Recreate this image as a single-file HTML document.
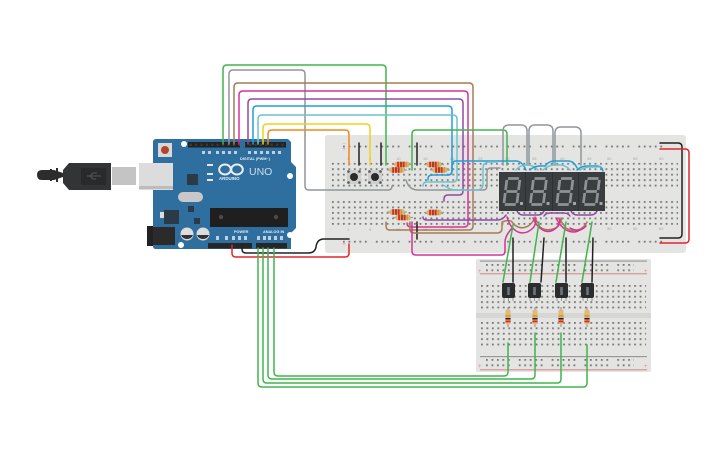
<!DOCTYPE html>
<html><head><meta charset="utf-8"><style>
html,body{margin:0;padding:0;background:#fff}
svg{display:block}
text{font-family:"Liberation Sans",sans-serif}
.w{fill:none;stroke-width:1.5;stroke-linecap:round}
</style></head><body>
<svg width="725" height="453" viewBox="0 0 725 453" xmlns="http://www.w3.org/2000/svg">
<defs>
<pattern id="m1" x="332" y="162.8" width="5.47" height="5.47" patternUnits="userSpaceOnUse"><rect x="0" y="0" width="1.8" height="1.8" fill="#777"/></pattern>
<pattern id="r1" x="343" y="0" width="32.82" height="5.6" patternUnits="userSpaceOnUse"><g fill="#777"><rect x="0" y="0" width="1.8" height="1.8"/><rect x="5.47" y="0" width="1.8" height="1.8"/><rect x="10.94" y="0" width="1.8" height="1.8"/><rect x="16.41" y="0" width="1.8" height="1.8"/><rect x="21.88" y="0" width="1.8" height="1.8"/></g></pattern>
<pattern id="m2" x="481" y="285" width="5.47" height="5.4" patternUnits="userSpaceOnUse"><rect x="0" y="0" width="1.8" height="1.8" fill="#777"/></pattern>
<pattern id="m3" x="481" y="322" width="5.47" height="5.4" patternUnits="userSpaceOnUse"><rect x="0" y="0" width="1.8" height="1.8" fill="#777"/></pattern>
<pattern id="r2" x="486" y="264" width="32.82" height="5.4" patternUnits="userSpaceOnUse"><g fill="#777"><rect x="0" y="0" width="1.8" height="1.8"/><rect x="5.47" y="0" width="1.8" height="1.8"/><rect x="10.94" y="0" width="1.8" height="1.8"/><rect x="16.41" y="0" width="1.8" height="1.8"/><rect x="21.88" y="0" width="1.8" height="1.8"/></g></pattern>
<pattern id="r3" x="486" y="359" width="32.82" height="5.4" patternUnits="userSpaceOnUse"><g fill="#777"><rect x="0" y="0" width="1.8" height="1.8"/><rect x="5.47" y="0" width="1.8" height="1.8"/><rect x="10.94" y="0" width="1.8" height="1.8"/><rect x="16.41" y="0" width="1.8" height="1.8"/><rect x="21.88" y="0" width="1.8" height="1.8"/></g></pattern>
<pattern id="hd" x="188" y="142" width="5.4" height="6" patternUnits="userSpaceOnUse"><rect width="5.4" height="6" fill="#222"/><rect x="1.6" y="1.6" width="2.2" height="2.4" fill="#3a3a3a"/></pattern>
<g id="dig"><g transform="skewX(-7)" fill="none" stroke="#8f9394" stroke-width="2.7"><path d="M3 0H14"/><path d="M2 1.5V11.5"/><path d="M15 1.5V11.5"/><path d="M3 13H14"/><path d="M2 14.5V24.5"/><path d="M15 14.5V24.5"/><path d="M3 26H14"/></g><rect x="15" y="23.5" width="3" height="3" fill="#a0a4a5"/></g>
<g id="res"><rect x="-10" y="-.6" width="20" height="1.2" fill="#999"/><rect x="-7.5" y="-2.8" width="15" height="5.6" rx="2.2" fill="#d8b572"/><rect x="-4.8" y="-2.8" width="2" height="5.6" fill="#e0261f"/><rect x="-1.8" y="-2.8" width="1.6" height="5.6" fill="#8a2a1a"/><rect x=".6" y="-2.8" width="2" height="5.6" fill="#e0261f"/><rect x="3.6" y="-2.8" width="1.2" height="5.6" fill="#c8962c"/></g>
<g id="vres"><rect x="-.6" y="-10" width="1.2" height="20" fill="#999"/><rect x="-2.6" y="-7.5" width="5.2" height="15" rx="2" fill="#dcbb7c"/><rect x="-2.6" y="-1.8" width="5.2" height="1.6" fill="#e8902a"/><rect x="-2.6" y="1" width="5.2" height="1.5" fill="#1c1c1c"/><rect x="-2.6" y="3.5" width="5.2" height="1.8" fill="#e0261f"/></g>
<g id="btn"><rect x="-7" y="-7" width="14" height="14" fill="#cfcfcf"/><circle cx="-5.5" cy="-5.5" r="1.3" fill="#555"/><circle cx="5.5" cy="-5.5" r="1.3" fill="#555"/><circle cx="-5.5" cy="5.5" r="1.3" fill="#555"/><circle cx="5.5" cy="5.5" r="1.3" fill="#555"/><circle r="4" fill="#2b2b2b"/></g>
<g id="tr"><rect x="1.5" y="14" width="1" height="4" fill="#999"/><rect x="6" y="14" width="1" height="4" fill="#999"/><rect x="10.5" y="14" width="1" height="4" fill="#999"/><path d="M0 1.5Q0 0 2 0H11Q13 0 13 1.5V13Q13 15 11 15H2Q0 15 0 13Z" fill="#2a2c2e"/><rect x="5.2" y="4" width="2.6" height="8" fill="#70757a"/></g>
</defs>

<!-- breadboard 1 -->
<rect x="325" y="135" width="361" height="118" rx="3" fill="#e4e4e2"/>
<rect x="343" y="142.5" width="328" height="8" fill="url(#r1)"/>
<rect x="343" y="237.5" width="328" height="8" fill="url(#r1)"/>
<rect x="332" y="162.8" width="346" height="26" fill="url(#m1)"/>
<rect x="332" y="200" width="346" height="26" fill="url(#m1)"/>
<g font-size="4" fill="#a8a8a8"><text x="347" y="160">1</text><text x="369" y="160">5</text><text x="396" y="160">10</text><text x="423" y="160">15</text><text x="450" y="160">20</text><text x="478" y="160">25</text><text x="505" y="160">30</text><text x="532" y="160">35</text><text x="560" y="160">40</text><text x="587" y="160">45</text><text x="607" y="160">50</text><text x="633" y="160">55</text><text x="659" y="160">60</text>
<text x="347" y="231">1</text><text x="369" y="231">5</text><text x="396" y="231">10</text><text x="423" y="231">15</text><text x="450" y="231">20</text><text x="607" y="230">50</text><text x="633" y="230">55</text><text x="659" y="230">60</text></g>
<text x="342" y="146" font-size="7" fill="#9db">−</text><text x="342" y="151" font-size="7" fill="#e99">+</text><text x="342" y="246" font-size="7" fill="#e99">+</text>

<!-- breadboard 2 -->
<rect x="476" y="259" width="175" height="113" rx="2" fill="#e4e4e2"/>
<rect x="476" y="313" width="175" height="5" fill="#d6d6d4"/>
<rect x="480" y="260.5" width="167" height="1.2" fill="#999"/>
<rect x="480" y="273" width="167" height="1.4" fill="#d9a0a0"/>
<rect x="480" y="356" width="167" height="1.2" fill="#999"/>
<rect x="480" y="369" width="167" height="1.4" fill="#d9a0a0"/>
<rect x="486" y="264" width="148" height="8" fill="url(#r2)"/>
<rect x="486" y="359" width="148" height="8" fill="url(#r3)"/>
<rect x="481" y="285" width="165" height="25" fill="url(#m2)"/>
<rect x="481" y="322" width="165" height="25" fill="url(#m3)"/>
<text x="478" y="273" font-size="6" fill="#e88">+</text><text x="644" y="273" font-size="6" fill="#e88">+</text><text x="478" y="368" font-size="6" fill="#e88">+</text><text x="644" y="368" font-size="6" fill="#e88">+</text>

<!-- usb plug -->
<path d="M63 173L54 170H42Q37 170 37 175Q37 180 42 180H54L63 177Z" fill="#2c2c2c"/>
<rect x="50" y="169" width="2" height="12" fill="#2c2c2c"/><rect x="56" y="168" width="2" height="14" fill="#2c2c2c"/>
<path d="M69 163H111V190H69L63 183V170Z" fill="#333435"/>
<rect x="81" y="168" width="25" height="17" fill="#292a2b"/>
<path d="M87 176H101M90 176l3-3h4M90 176l3 3h3" fill="none" stroke="#555" stroke-width="1"/>
<rect x="112" y="167" width="24" height="18" fill="#c4c4c4"/>
<rect x="139" y="163" width="28" height="27" fill="#dcdcdc"/>

<!-- arduino -->
<path d="M156 139H288L291 142V162L296 167V228L291 233V249H156Q153 249 153 246V142Q153 139 156 139Z" fill="#2f6f9f"/>
<rect x="139" y="163" width="34" height="27" fill="#dcdcdc"/>
<rect x="139" y="186" width="34" height="3" fill="#bcbcbc"/>
<circle cx="184" cy="144" r="3" fill="#fff"/><circle cx="290" cy="176" r="3" fill="#fff"/><circle cx="290" cy="235" r="3" fill="#fff"/><circle cx="181" cy="245" r="3" fill="#fff"/>
<rect x="158" y="143" width="14" height="14" fill="#d8d8d6"/><circle cx="165" cy="150" r="4" fill="#b5452a"/>
<rect x="188" y="142" width="52" height="5.5" fill="url(#hd)"/><rect x="245" y="142" width="41" height="5.5" fill="url(#hd)"/>
<rect x="208" y="243" width="44" height="5.5" fill="#262626"/><rect x="256" y="243" width="31" height="5.5" fill="#262626"/>
<rect x="210" y="208" width="78" height="19" fill="#1f1f1f"/><circle cx="221" cy="217" r="2.2" fill="#4a4a4a"/><circle cx="276" cy="217" r="2.2" fill="#4a4a4a"/>
<rect x="147" y="226" width="6" height="20" fill="#222"/><rect x="153" y="227" width="22" height="18" fill="#2b2b2b"/>
<rect x="187" y="174" width="11" height="11" fill="#2b3a44"/>
<rect x="178" y="192" width="25" height="10" rx="5" fill="#c8c8c8"/>
<rect x="188" y="206" width="6" height="6" fill="#2b3a44"/>
<rect x="164" y="210" width="15" height="14" fill="#2b3a44"/><rect x="160" y="212" width="4" height="6" fill="#ddd"/>
<rect x="194" y="218" width="6" height="6" fill="#2b3a44"/>
<circle cx="187" cy="234" r="6.5" fill="#ddd"/><path d="M181 235A6.5 6.5 0 0 0 193 235Z" fill="#333"/>
<circle cx="203" cy="234" r="6.5" fill="#ddd"/><path d="M197 235A6.5 6.5 0 0 0 209 235Z" fill="#333"/>
<g fill="none" stroke="#e8eef3" stroke-width="2"><ellipse cx="225" cy="169.5" rx="5.8" ry="5"/><ellipse cx="237" cy="169.5" rx="5.8" ry="5"/></g>
<text x="219" y="180" font-size="4.4" font-weight="bold" fill="#e8eef3">ARDUINO</text>
<text x="249" y="175" font-size="10.5" fill="#cfdde8">UNO</text>
<text x="240" y="160" font-size="3.8" font-weight="bold" fill="#e8eef3">DIGITAL (PWM~)</text>
<text x="234" y="233" font-size="3.8" font-weight="bold" fill="#e8eef3">POWER</text>
<text x="263" y="233" font-size="3.8" font-weight="bold" fill="#e8eef3">ANALOG IN</text>
<rect x="207" y="173" width="6" height="2" fill="#dfe8ef"/><rect x="207" y="179" width="6" height="2" fill="#dfe8ef"/>
<rect x="207" y="164" width="6" height="2" fill="#dfe8ef"/>
<g fill="#bcd0de"><rect x="202" y="151" width="3" height="3"/><rect x="208" y="151" width="3" height="3"/><rect x="216" y="151" width="3" height="3"/><rect x="222" y="151" width="3" height="3"/><rect x="228" y="151" width="3" height="3"/><rect x="234" y="151" width="3" height="3"/><rect x="248" y="151" width="3" height="3"/><rect x="254" y="151" width="3" height="3"/><rect x="260" y="151" width="3" height="3"/><rect x="266" y="151" width="3" height="3"/><rect x="272" y="151" width="3" height="3"/><rect x="278" y="151" width="3" height="3"/>
<rect x="216" y="236" width="3" height="4"/><rect x="225" y="236" width="3" height="4"/><rect x="232" y="236" width="3" height="4"/><rect x="238" y="236" width="3" height="4"/><rect x="244" y="236" width="3" height="4"/><rect x="257" y="236" width="3" height="4"/><rect x="263" y="236" width="3" height="4"/><rect x="268" y="236" width="3" height="4"/><rect x="274" y="236" width="3" height="4"/><rect x="280" y="236" width="3" height="4"/></g>

<!-- long arduino wires -->
<path class="w" stroke="#3fb54a" d="M223 144V69Q223 65 227 65H382Q386 65 386 69V165"/>
<path class="w" stroke="#90969a" d="M229 144V74Q229 70 233 70H301Q305 70 305 74V186Q305 190 309 190H388Q392 190 392 186"/>
<path class="w" stroke="#a67c52" d="M234 144V87Q234 83 238 83H469Q473 83 473 87V226Q473 230 469 230H390Q386 230 386 226V222"/>
<path class="w" stroke="#d5329a" d="M239 144V95Q239 91 243 91H464Q468 91 468 95V223Q468 227 464 227H411Q407 227 407 223"/>
<path class="w" stroke="#8e4aa3" d="M248 144V103Q248 99 252 99H459Q463 99 463 103V191Q463 195 459 195H448Q444 195 444 199V201"/>
<path class="w" stroke="#1e9fd6" d="M253 144V110Q253 106 257 106H448Q452 106 452 110V171Q452 175 448 175H432Q428 175 428 179V180"/>
<path class="w" stroke="#6fc2d0" d="M258 144V119Q258 115 262 115H453Q457 115 457 119V178Q457 182 453 182H427Q423 182 423 186"/>
<path class="w" stroke="#f3cf1d" d="M263 144V128Q263 124 267 124H366Q370 124 370 128V165"/>
<path class="w" stroke="#ef8a1c" d="M268 144V134Q268 130 272 130H345Q349 130 349 134V165"/>
<path class="w" stroke="#e0262b" d="M232 245V253Q232 257 236 257H345Q349 257 349 253V244"/>
<path class="w" stroke="#222" d="M242 245V249Q242 253 246 253H308Q315 253 316 247Q317 239 324 239H349"/>
<path class="w" stroke="#3fb54a" d="M258 248V383Q258 387 262 387H583Q587 387 587 383V345"/>
<path class="w" stroke="#3fb54a" d="M263 248V379Q263 383 267 383H557Q561 383 561 379V333"/>
<path class="w" stroke="#3fb54a" d="M268 248V375Q268 379 272 379H531Q535 379 535 375V333"/>
<path class="w" stroke="#3fb54a" d="M274 248V372Q274 376 278 376H504Q508 376 508 372V343"/>

<!-- jumpers on bb1 -->
<path class="w" stroke="#222" d="M359 143V165M381 143V165M417 143V165M417 222V239"/>
<path class="w" stroke="#222" d="M660 143H678Q682 143 682 147V234Q682 238 678 238H660"/>
<path class="w" stroke="#e0262b" d="M660 149H685Q689 149 689 153V239Q689 243 685 243H660"/>
<path class="w" stroke="#3fb54a" d="M412 170V134Q412 130 416 130H503Q507 130 507 134V165"/>
<path class="w" stroke="#90969a" d="M503 165V131Q503 125 509 125H521Q527 125 527 131V165"/>
<path class="w" stroke="#90969a" d="M529 165V131Q529 125 535 125H547Q553 125 553 131V165"/>
<path class="w" stroke="#90969a" d="M555 165V133Q555 127 561 127H575Q581 127 581 133V165"/>
<path class="w" stroke="#90969a" d="M406 180Q409 190 418 190H483Q487 190 487 186V172Q487 168 491 168H500"/>
<path class="w" stroke="#1e9fd6" d="M448 175Q452 175 452 170V165Q452 161 456 161H516Q522 161 526 170"/>
<path class="w" stroke="#6fc2d0" d="M443 185L450 189Q453 190 457 190H476Q483 190 483 184V168Q483 162 490 162H497"/>
<path class="w" stroke="#8e4aa3" d="M423 217Q423 220 427 220H497Q503 220 506 215"/>
<path class="w" stroke="#a67c52" d="M410 222V229Q410 233 414 233H497Q502 233 502 228V223"/>
<path class="w" stroke="#d5329a" d="M412 222V251Q412 255 416 255H501Q505 255 505 251V242Q505 236 512 228"/>

<!-- wires around display -->
<g class="w">
<path class="w" stroke="#6fc2d0" d="M516 170Q520 165 526 165Q534 165 538 170"/>
<path class="w" stroke="#1e9fd6" d="M530 170Q534 166 540 166H545Q549 161 554 161H568Q574 161 577 168"/>
<path class="w" stroke="#6fc2d0" d="M543 170Q548 165 555 165H560Q566 165 570 170"/>
<path class="w" stroke="#1e9fd6" d="M577 170Q581 166 587 166H597Q602 166 603 171"/>
<path class="w" stroke="#6fc2d0" d="M580 170Q585 167 590 167H600"/>
<path class="w" stroke="#8e4aa3" d="M517 211Q519 215 523 215H538Q542 215 544 211"/>
<path class="w" stroke="#8e4aa3" d="M544 216Q546 213 550 213H564Q568 213 570 216"/>
<path class="w" stroke="#8e4aa3" d="M571 211Q573 215 577 215H591Q595 215 597 211"/>
<path class="w" stroke="#a67c52" d="M502 222Q510 219 512 222Q518 230 526 227Q532 225 535 217"/>
<path class="w" stroke="#a67c52" d="M534 218Q538 222 540 227Q546 232 556 228Q560 225 562 218"/>
<path class="w" stroke="#a67c52" d="M558 218Q562 222 566 228Q574 233 582 228Q586 225 587 222"/>
<path class="w" stroke="#d5329a" d="M507 217Q510 228 518 232Q526 235 533 228Q536 225 536 218"/>
<path class="w" stroke="#d5329a" d="M533 218Q537 228 545 231Q552 233 558 226Q560 222 560 218"/>
<path class="w" stroke="#d5329a" d="M556 218Q560 226 566 230Q574 234 580 230"/>
<path class="w" stroke="#d5329a" d="M570 228Q580 233 586 226"/>
</g>

<!-- resistors -->
<use href="#res" x="402" y="164.5"/><use href="#res" x="397" y="170"/><use href="#res" x="434" y="164.5"/><use href="#res" x="440" y="170"/>
<use href="#res" x="397" y="212"/><use href="#res" x="403" y="217.5"/><use href="#res" x="434" y="212.5"/>

<!-- buttons -->
<use href="#btn" x="354" y="177"/><use href="#btn" x="375" y="177"/>

<!-- display -->
<rect x="499" y="172" width="106" height="39" fill="#3a3e41"/>
<rect x="525" y="172" width="1" height="39" fill="#2e3133"/><rect x="552" y="172" width="1" height="39" fill="#2e3133"/><rect x="578" y="172" width="1" height="39" fill="#2e3133"/>
<use href="#dig" x="505" y="178.5"/><use href="#dig" x="531.5" y="178.5"/><use href="#dig" x="558" y="178.5"/><use href="#dig" x="584.5" y="178.5"/>

<!-- transistor connections -->
<path class="w" stroke="#3fb54a" d="M513 225L503 282M539 222L530 282M566 222L556 282M592 222L582 282"/>
<path class="w" stroke="#222" d="M513 238V282M544 238L541 282M566 238V282M593 238L592 282"/>
<use href="#tr" x="502" y="283"/><use href="#tr" x="528" y="283"/><use href="#tr" x="555" y="283"/><use href="#tr" x="581" y="283"/>
<use href="#vres" x="508" y="317"/><use href="#vres" x="535" y="317"/><use href="#vres" x="561" y="317"/><use href="#vres" x="587" y="317"/>
</svg>
</body></html>
